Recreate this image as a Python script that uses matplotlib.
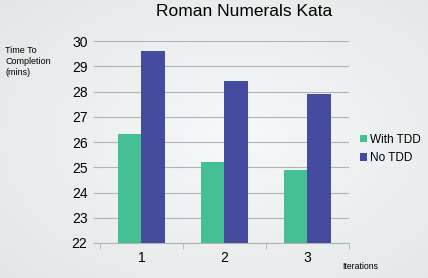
import numpy as np
import matplotlib
matplotlib.use("Agg")
import matplotlib.pyplot as plt

categories = ["1", "2", "3"]
with_tdd = [26.3, 25.2, 24.9]
no_tdd = [29.6, 28.4, 27.9]
series_names = ["With TDD", "No TDD"]
yticks = [22, 23, 24, 25, 26, 27, 28, 29, 30]

plt.rcParams['font.family'] = ['Liberation Sans', 'DejaVu Sans']

fig = plt.figure(figsize=(4.28, 2.78), dpi=100)

# background gradient
bg = fig.add_axes([0, 0, 1, 1], zorder=-10)
xx, yy = np.meshgrid(np.linspace(0, 1, 200), np.linspace(0, 1, 200))
d = np.sqrt(((xx - 0.55) / 0.9) ** 2 + ((yy - 0.5) / 0.9) ** 2)
val = 0.975 - 0.09 * d
rgb = np.dstack([val - 0.01, val, val + 0.005]).clip(0, 1)
bg.imshow(rgb, aspect='auto', extent=[0, 1, 0, 1])
bg.axis('off')

ax = fig.add_axes([0.2336, 0.1259, 0.8154 - 0.2336, 0.8525 - 0.1259])
ax.set_facecolor('none')
x = np.arange(1, len(categories) + 1)
w = 0.285
ax.bar(x - w / 2, with_tdd, w, color='#45BF94', label=series_names[0], zorder=3)
ax.bar(x + w / 2, no_tdd, w, color='#454C9F', label=series_names[1], zorder=3)

ax.set_ylim(22, 30)
ax.set_xlim(0.5, 3.5)
ax.set_yticks(yticks)
ax.set_yticklabels([str(t) for t in yticks], fontsize=10)
ax.yaxis.grid(True, color='#b3b3b3', linewidth=0.8, zorder=0)
ax.tick_params(axis='y', length=5, color='#b3b3b3', pad=4)
ax.set_xticks(x)
ax.set_xticklabels(categories, fontsize=10)
ax.set_xticks([0.5, 1.5, 2.5, 3.5], minor=True)
ax.tick_params(axis='x', which='major', length=0, pad=6)
ax.tick_params(axis='x', which='minor', length=4, color='#b3b3b3')
for s in ['top', 'right', 'left']:
    ax.spines[s].set_visible(False)
ax.spines['bottom'].set_color('#b3b3b3')

fig.text(0.5 + 0.07, 0.96, "Roman Numerals Kata", fontsize=12.5, ha='center', va='center')
fig.text(0.012, 0.835, "Time To\nCompletion\n(mins)", fontsize=6.5, ha='left', va='top', linespacing=1.3)
fig.text(0.80, 0.043, "Iterations", fontsize=6.3, ha='left', va='center')

ax.legend(loc='center left', bbox_to_anchor=(1.0, 0.465), frameon=False, fontsize=8.5,
          handlelength=0.6, handleheight=0.6, handletextpad=0.3, labelspacing=0.55)

fig.savefig("out.png", dpi=100)
